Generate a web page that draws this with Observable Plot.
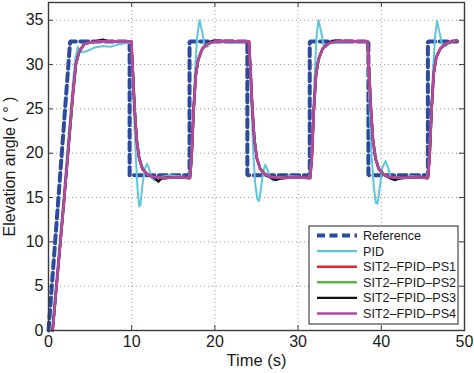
<!DOCTYPE html>
<html>
<head>
<meta charset="utf-8">
<script src="https://cdn.jsdelivr.net/npm/d3@7"></script>
<script src="https://cdn.jsdelivr.net/npm/@observablehq/plot@0.6"></script>
<style>
  html, body { margin: 0; padding: 0; background: #fff; }
  svg { display: block; }
</style>
</head>
<body>
<div id="chart"></div>
<script>
// ---- data ----
const xTicks = [0, 10, 20, 30, 40, 50];
const yTicks = [0, 5, 10, 15, 20, 25, 30, 35];
const seriesNames = ["Reference", "PID", "SIT2\u2013FPID\u2013PS1", "SIT2\u2013FPID\u2013PS2", "SIT2\u2013FPID\u2013PS3", "SIT2\u2013FPID\u2013PS4"];
const seriesColors = ["#2d4b9e", "#5ec6dc", "#e3232b", "#5fb649", "#111111", "#b3499f"];

const reference = [
  [0, 0], [2.6, 32.6], [9.75, 32.6], [9.75, 17.5], [16.95, 17.5], [16.95, 32.6],
  [23.9, 32.6], [23.9, 17.5], [31.4, 17.5], [31.4, 32.6], [38.45, 32.6], [38.45, 17.5],
  [45.6, 17.5], [45.6, 32.6], [49.1, 32.6]
];

const pid = [
  [0.4, 0], [1.8, 15], [2.8, 26.5], [3.2, 30.5], [3.5, 32.0], [3.9, 31.4], [4.6, 31.5], [5.5, 31.9],
  [6.5, 32.1], [7.5, 32.0], [8.5, 32.3], [9.9, 32.5],
  [10.1, 29], [10.3, 24], [10.5, 19.5], [10.7, 16], [10.9, 14], [11.05, 14.2], [11.3, 16.5], [11.6, 18.3],
  [11.85, 18.8], [12.1, 18.2], [12.4, 17.2], [12.8, 16.9], [13.3, 17.3], [14.5, 17.5], [16.9, 17.3],
  [17.1, 19], [17.35, 24], [17.6, 29], [17.85, 33], [18.15, 35], [18.45, 33.8], [18.75, 32.2], [19.1, 32.0],
  [19.6, 32.5], [21, 32.6], [22, 32.4], [24.1, 32.6],
  [24.25, 29], [24.45, 24], [24.65, 19.5], [24.85, 16.5], [25.1, 14.8], [25.3, 14.6], [25.5, 15.8], [25.8, 17.9],
  [26.05, 18.7], [26.3, 18.2], [26.6, 17.3], [27, 16.9], [27.6, 17.2], [29, 17.4], [31.35, 17.3],
  [31.55, 19], [31.8, 24], [32.0, 29], [32.2, 33], [32.45, 35], [32.75, 33.8], [33.05, 32.2], [33.4, 32.0],
  [33.9, 32.5], [35.5, 32.4], [37, 32.6], [38.3, 32.6],
  [38.45, 29], [38.65, 24], [38.85, 19.5], [39.1, 16.2], [39.35, 14.4], [39.55, 14.3], [39.8, 16.0], [40.1, 18.3],
  [40.5, 19.1], [40.8, 18.4], [41.1, 17.4], [41.6, 16.9], [42.3, 17.2], [43.5, 17.4], [45.5, 17.3],
  [45.7, 19], [45.95, 24], [46.2, 29], [46.45, 33], [46.7, 34.9], [47.0, 33.6], [47.3, 32.3], [47.7, 32.1],
  [48.3, 32.5], [49.1, 32.7]
];

const ps1 = [
  [0.5, 0], [1.9, 15], [2.9, 26.4], [3.3, 30.1], [3.7, 31.5], [4.3, 32.3], [5.0, 32.5], [6.0, 32.6], [9.95, 32.6],
  [10.15, 29], [10.35, 25], [10.6, 21.5], [10.9, 19.4], [11.3, 18.2], [11.9, 17.6], [12.6, 17.3], [14.0, 17.2], [15.5, 17.3], [17.0, 17.2],
  [17.2, 19.5], [17.45, 25], [17.7, 28.8], [18.0, 30.6], [18.5, 31.8], [19.2, 32.4], [20.0, 32.6], [24.1, 32.6],
  [24.3, 29], [24.5, 25], [24.75, 21.5], [25.05, 19.4], [25.45, 18.2], [26.05, 17.6], [26.75, 17.3], [28.2, 17.2], [29.7, 17.3], [31.45, 17.2],
  [31.65, 19.5], [31.9, 25], [32.15, 28.8], [32.45, 30.6], [32.95, 31.8], [33.65, 32.4], [34.5, 32.6], [38.35, 32.6],
  [38.55, 29], [38.75, 25], [39.0, 21.5], [39.3, 19.4], [39.7, 18.2], [40.3, 17.6], [41.0, 17.3], [42.4, 17.2], [44.0, 17.3], [45.6, 17.2],
  [45.8, 19.5], [46.05, 25], [46.3, 29], [46.6, 30.8], [47.1, 31.8], [47.8, 32.4], [48.5, 32.6], [49.1, 32.7]
];

const ps2 = [
  [0.5, 0], [1.9, 15], [2.9, 26.3], [3.3, 30.0], [3.7, 31.4], [4.3, 32.3], [5.0, 32.5], [6.0, 32.6], [9.95, 32.6],
  [10.15, 29], [10.35, 25], [10.6, 21.6], [10.9, 19.5], [11.3, 18.3], [11.9, 17.6], [12.6, 17.3], [14.0, 17.2], [15.5, 17.3], [17.0, 17.2],
  [17.2, 19.5], [17.45, 25], [17.7, 28.7], [18.0, 30.5], [18.5, 31.8], [19.2, 32.4], [20.0, 32.6], [24.1, 32.6],
  [24.3, 29], [24.5, 25], [24.75, 21.6], [25.05, 19.5], [25.45, 18.3], [26.05, 17.6], [26.75, 17.3], [28.2, 17.2], [29.7, 17.3], [31.45, 17.2],
  [31.65, 19.5], [31.9, 25], [32.15, 28.7], [32.45, 30.5], [32.95, 31.8], [33.65, 32.4], [34.5, 32.6], [38.35, 32.6],
  [38.55, 29], [38.75, 25], [39.0, 21.6], [39.3, 19.5], [39.7, 18.3], [40.3, 17.6], [41.0, 17.3], [42.4, 17.2], [44.0, 17.3], [45.6, 17.2],
  [45.8, 19.5], [46.05, 25], [46.3, 29], [46.6, 30.8], [47.1, 31.8], [47.8, 32.4], [48.5, 32.6], [49.1, 32.7]
];

const ps3 = [
  [0.5, 0], [1.9, 15], [2.9, 26.3], [3.3, 30.1], [3.7, 31.5], [4.3, 32.3], [5.0, 32.5], [6.0, 32.7], [6.5, 32.8], [7.2, 32.6], [9.95, 32.6],
  [10.15, 29], [10.35, 25], [10.6, 21.5], [10.9, 19.4], [11.3, 18.2], [11.9, 17.6], [12.6, 17.3], [13.0, 17.0], [13.2, 16.8], [13.5, 17.1], [14.0, 17.2], [15.5, 17.3], [17.0, 17.2],
  [17.2, 19.5], [17.45, 25], [17.7, 28.8], [18.0, 30.6], [18.5, 31.8], [19.2, 32.5], [20.0, 32.7], [24.1, 32.6],
  [24.3, 29], [24.5, 25], [24.75, 21.5], [25.05, 19.4], [25.45, 18.2], [26.05, 17.6], [26.75, 17.2], [27.3, 17.0], [28.2, 17.2], [29.7, 17.3], [31.45, 17.2],
  [31.65, 19.5], [31.9, 25], [32.15, 28.8], [32.45, 30.6], [32.95, 31.8], [33.65, 32.5], [34.5, 32.7], [38.35, 32.6],
  [38.55, 29], [38.75, 25], [39.0, 21.5], [39.3, 19.4], [39.7, 18.2], [40.3, 17.6], [41.0, 17.2], [41.6, 17.0], [42.4, 17.2], [44.0, 17.3], [45.6, 17.2],
  [45.8, 19.5], [46.05, 25], [46.3, 29], [46.6, 30.8], [47.1, 31.8], [47.8, 32.4], [48.5, 32.6], [49.1, 32.7]
];

const ps4 = [
  [0.5, 0], [1.9, 15], [2.9, 26.3], [3.3, 30.1], [3.7, 31.5], [4.3, 32.3], [5.0, 32.5], [6.0, 32.6], [9.95, 32.6],
  [10.15, 29], [10.35, 25], [10.6, 21.5], [10.9, 19.4], [11.3, 18.2], [11.9, 17.6], [12.6, 17.3], [14.0, 17.2], [15.5, 17.3], [17.0, 17.2],
  [17.2, 19.5], [17.45, 25], [17.7, 28.8], [18.0, 30.6], [18.5, 31.8], [19.2, 32.4], [20.0, 32.6], [24.1, 32.6],
  [24.3, 29], [24.5, 25], [24.75, 21.5], [25.05, 19.4], [25.45, 18.2], [26.05, 17.6], [26.75, 17.3], [28.2, 17.2], [29.7, 17.3], [31.45, 17.2],
  [31.65, 19.5], [31.9, 25], [32.15, 28.8], [32.45, 30.6], [32.95, 31.8], [33.65, 32.4], [34.5, 32.6], [38.35, 32.6],
  [38.55, 29], [38.75, 25], [39.0, 21.5], [39.3, 19.4], [39.7, 18.2], [40.3, 17.6], [41.0, 17.3], [42.4, 17.2], [44.0, 17.3], [45.6, 17.2],
  [45.8, 19.5], [46.05, 25], [46.3, 29], [46.6, 30.8], [47.1, 31.8], [47.8, 32.4], [48.5, 32.6], [49.1, 32.7]
];

const xLabel = "Time (s)";
const yLabel = "Elevation angle ( \u00B0 )";

// ---- chart ----
const font = "'Liberation Sans', Arial, Helvetica, sans-serif";
const axisColor = "#3a3a3a";
const lineOpts = (color, w) => ({x: d => d[0], y: d => d[1], stroke: color, strokeWidth: w, strokeLinejoin: "round", curve: "linear"});

const chart = Plot.plot({
  width: 474,
  height: 373,
  marginLeft: 48,
  marginRight: 10,
  marginTop: 2,
  marginBottom: 43,
  style: {fontFamily: font, fontSize: "16px", color: "#1a1a1a", background: "#fff"},
  x: {domain: [0, 50], ticks: xTicks},
  y: {domain: [0, 37], ticks: yTicks},
  marks: [
    Plot.gridX(xTicks, {stroke: "#777", strokeOpacity: 0.75, strokeDasharray: "1,3"}),
    Plot.gridY(yTicks, {stroke: "#777", strokeOpacity: 0.75, strokeDasharray: "1,3"}),
    Plot.line(reference, {...lineOpts(seriesColors[0], 4), strokeDasharray: "8,4.5", strokeLinejoin: "miter"}),
    Plot.line(pid, lineOpts(seriesColors[1], 2)),
    Plot.line(ps1, lineOpts(seriesColors[2], 2.4)),
    Plot.line(ps2, lineOpts(seriesColors[3], 2.4)),
    Plot.line(ps3, lineOpts(seriesColors[4], 2.4)),
    Plot.line(ps4, lineOpts(seriesColors[5], 2.8)),
    // inward ticks on all four sides
    Plot.ruleX(xTicks, {y1: 0, y2: 0.55, stroke: axisColor}),
    Plot.ruleX(xTicks, {y1: 37, y2: 36.45, stroke: axisColor}),
    Plot.ruleY(yTicks, {x1: 0, x2: 0.6, stroke: axisColor}),
    Plot.ruleY(yTicks, {x1: 50, x2: 49.4, stroke: axisColor}),
    Plot.frame({stroke: axisColor, strokeWidth: 1.4}),
    Plot.axisX(xTicks, {anchor: "bottom", tickSize: 0, tickPadding: 5, label: null, fontSize: 16}),
    Plot.axisY(yTicks, {anchor: "left", tickSize: 0, tickPadding: 5, label: null, fontSize: 16}),
    Plot.text([xLabel], {frameAnchor: "bottom", dy: 30, lineAnchor: "middle", textAnchor: "middle", fontSize: 16.5, fill: "#1a1a1a"}),
    Plot.text([yLabel], {frameAnchor: "left", dx: -39, rotate: -90, textAnchor: "middle", lineAnchor: "middle", fontSize: 16, fill: "#1a1a1a"})
  ]
});

// ---- legend inside the axes (lower right) ----
const svg = d3.select(chart);
const lg = svg.append("g").attr("font-family", font).attr("font-size", 12.6).attr("text-anchor", "start");
const bx = 309, by = 226, bw = 149, bh = 98;
lg.append("rect").attr("x", bx).attr("y", by).attr("width", bw).attr("height", bh)
  .attr("fill", "#fff").attr("stroke", "#222").attr("stroke-width", 1);
seriesNames.forEach((name, i) => {
  const cy = by + 9.5 + i * 15.6;
  const ln = lg.append("line").attr("x1", bx + 8).attr("x2", bx + 48).attr("y1", cy).attr("y2", cy)
    .attr("stroke", seriesColors[i]).attr("stroke-width", i === 0 ? 4 : 2.4);
  if (i === 0) ln.attr("stroke-dasharray", "8,4.5");
  lg.append("text").attr("x", bx + 54).attr("y", cy).attr("dy", "0.35em").attr("text-anchor", "start")
    .attr("fill", "#1a1a1a").text(name);
});

document.getElementById("chart").appendChild(chart);
</script>
</body>
</html>
